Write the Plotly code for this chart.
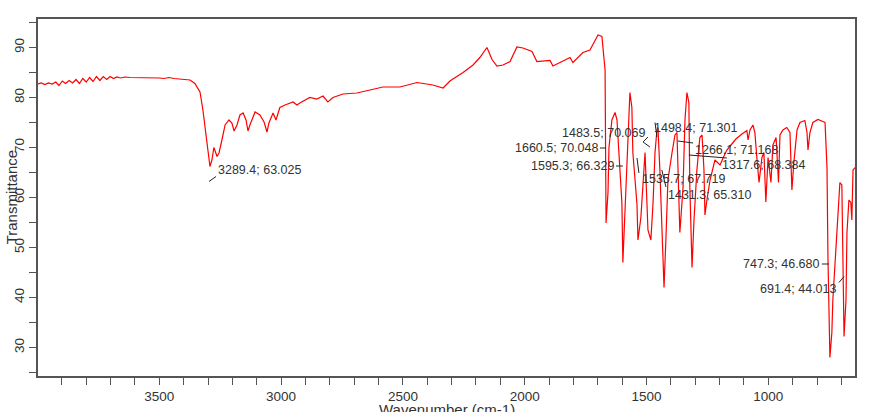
"""
plot.py
FT-IR transmittance spectrum with peak-pick labels, rebuilt in Plotly.
"""

import plotly.graph_objects as go

# ---------------------------------------------------------------------------
# Spectrum data
# ---------------------------------------------------------------------------
wavenumber = [
    3998, 3985, 3970, 3955, 3940, 3925, 3912, 3898, 3885, 3870, 3856, 3842,
    3828, 3814, 3800, 3786, 3772, 3758, 3744, 3730, 3716, 3702, 3688, 3674,
    3660, 3640, 3620, 3600, 3580, 3560, 3540, 3520, 3500, 3480, 3460, 3440,
    3420, 3400, 3374, 3354, 3333, 3321, 3304, 3292, 3284, 3276, 3263, 3255,
    3243, 3230, 3214, 3202, 3193, 3181, 3169, 3156, 3144, 3136, 3128, 3107,
    3087, 3070, 3058, 3050, 3033, 3021, 3005, 2984, 2951, 2935, 2923, 2882,
    2853, 2828, 2808, 2787, 2746, 2689, 2635, 2582, 2512, 2442, 2377, 2335,
    2307, 2253, 2212, 2184, 2155, 2134, 2114, 2089, 2060, 2032, 2007, 1970,
    1950, 1896, 1884, 1843, 1814, 1802, 1761, 1732, 1699, 1683, 1679, 1670,
    1666, 1658, 1654, 1642, 1629, 1621, 1617, 1601, 1597, 1580, 1568, 1560,
    1556, 1539, 1535, 1523, 1514, 1506, 1494, 1482, 1473, 1465, 1457, 1453,
    1445, 1437, 1428, 1420, 1412, 1395, 1383, 1375, 1371, 1363, 1350, 1342,
    1334, 1326, 1322, 1313, 1305, 1293, 1281, 1272, 1264, 1260, 1252, 1239,
    1219, 1198, 1180, 1170, 1153, 1133, 1108, 1088, 1083, 1075, 1063, 1055,
    1047, 1038, 1026, 1018, 1010, 1001, 989, 981, 968, 958, 952, 940,
    924, 911, 903, 895, 882, 870, 850, 841, 837, 829, 817, 796,
    776, 767, 759, 755, 747, 739, 735, 718, 706, 698, 693, 689,
    681, 677, 669, 661, 657, 652, 644,
]
transmittance = [
    82.7, 82.9, 82.6, 82.9, 82.7, 83.1, 82.4, 83.3, 82.8, 83.4, 82.9, 83.6,
    82.8, 83.8, 83.1, 84.0, 83.2, 84.2, 83.4, 84.2, 83.6, 84.2, 83.8, 84.1,
    83.9, 84.1, 84.0, 84.0, 83.9, 84.0, 83.9, 83.9, 83.9, 83.8, 84.0, 83.8,
    83.7, 83.6, 83.5, 82.8, 81.1, 77.5, 71.0, 66.2, 67.5, 70.0, 68.2, 68.9,
    71.5, 74.5, 75.5, 74.9, 73.3, 74.5, 76.5, 76.9, 75.5, 73.3, 74.5, 77.1,
    76.5, 75.1, 73.1, 74.9, 76.9, 75.5, 78.0, 78.5, 79.1, 78.5, 78.9, 80.0,
    79.7, 80.3, 79.1, 80.0, 80.7, 80.9, 81.5, 82.1, 82.1, 83.0, 82.5, 81.9,
    83.3, 85.0, 86.5, 88.0, 90.0, 87.6, 86.3, 86.5, 87.2, 90.1, 89.9, 89.2,
    87.2, 87.4, 86.3, 87.2, 88.0, 87.0, 89.0, 89.5, 92.5, 92.2, 90.1, 85.5,
    54.9, 61.0, 70.0, 75.5, 77.0, 75.5, 72.0, 59.0, 47.0, 69.0, 81.0, 78.0,
    69.0, 58.6, 51.5, 56.0, 63.5, 69.0, 53.5, 51.5, 59.0, 69.0, 73.5, 74.0,
    65.5, 55.5, 42.0, 52.0, 63.5, 69.0, 72.5, 73.0, 67.5, 53.0, 62.0, 75.5,
    81.0, 79.0, 62.0, 46.0, 55.5, 65.5, 72.0, 72.5, 65.5, 56.5, 59.5, 63.5,
    67.5, 66.5, 68.5, 69.5, 70.5, 71.7, 72.7, 73.4, 71.5, 73.5, 74.5, 73.0,
    68.0, 63.0, 68.0, 69.0, 59.1, 68.0, 63.0, 70.5, 72.0, 63.0, 72.5, 73.5,
    74.0, 73.0, 61.5, 67.0, 73.5, 75.0, 75.4, 73.0, 69.5, 73.0, 75.0, 75.6,
    75.2, 75.0, 66.0, 48.0, 28.0, 33.0, 39.5, 53.0, 63.0, 62.5, 46.0, 32.2,
    39.5, 53.0, 59.5, 59.0, 55.5, 65.5, 66.0,
]

# Peak-pick labels
peak_labels = [
    "3289.4; 63.025", "1483.5; 70.069", "1498.4; 71.301", "1660.5; 70.048",
    "1595.3; 66.329", "1266.1; 71.168", "1317.6; 68.384", "1535.7; 67.719",
    "1431.3; 65.310", "747.3; 46.680", "691.4; 44.013",
]

# ---------------------------------------------------------------------------
# Styling
# ---------------------------------------------------------------------------
COLOR_LINE = "#FF0000"
COLOR_AXIS = "#555555"
COLOR_TEXT = "#333333"
FONT = "Liberation Sans, Arial, sans-serif"

# label anchor (wavenumber, T, xanchor) in data units
label_pos = [
    (3267, 65.5, "left"), (1855, 73.0, "left"), (1478, 73.9, "left"),
    (1691, 69.9, "right"), (1625, 66.3, "right"), (1309, 69.5, "left"),
    (1198, 66.5, "left"), (1527, 63.7, "left"), (1420, 60.5, "left"),
    (780, 46.7, "right"), (710, 41.7, "right"),
]
# small leader ticks next to the labels
leaders = [
    ((3296, 63.2), (3267, 64.2)),
    ((1494, 72.1), (1514, 71.1)), ((1514, 71.1), (1486, 70.1)),
    ((1465, 75.0), (1457, 72.1)),
    ((1691, 69.9), (1666, 69.9)),
    ((1625, 66.3), (1597, 66.3)),
    ((1371, 71.3), (1309, 70.9)),
    ((1326, 68.5), (1170, 67.9)),
    ((1539, 67.9), (1531, 64.9)),
    ((1437, 65.5), (1420, 62.1)),
    ((780, 46.7), (751, 46.7)),
    ((710, 43.0), (689, 44.2)),
]

fig = go.Figure()

fig.add_trace(go.Scatter(
    x=wavenumber,
    y=transmittance,
    mode="lines",
    line=dict(color=COLOR_LINE, width=1.2),
    showlegend=False,
))

for txt, (lx, ly, anchor) in zip(peak_labels, label_pos):
    fig.add_annotation(
        x=lx, y=ly, text=txt, showarrow=False,
        xanchor=anchor, yanchor="middle",
        font=dict(family=FONT, size=12.5, color=COLOR_TEXT),
    )

for (x0, y0), (x1, y1) in leaders:
    fig.add_shape(
        type="line", x0=x0, y0=y0, x1=x1, y1=y1,
        line=dict(color="#222222", width=1),
    )

# axis titles as annotations so they sit exactly where the reference has them
fig.add_annotation(
    x=0.5, y=-0.095, xref="paper", yref="paper", text="Wavenumber (cm-1)",
    showarrow=False, yanchor="middle",
    font=dict(family=FONT, size=15, color=COLOR_TEXT),
)
fig.add_annotation(
    x=-0.032, y=0.5, xref="paper", yref="paper", text="Transmittance",
    showarrow=False, textangle=-90, xanchor="center",
    font=dict(family=FONT, size=15, color=COLOR_TEXT),
)

axis_common = dict(
    showline=True, mirror=True, linecolor=COLOR_AXIS, linewidth=1.5,
    showgrid=False, zeroline=False, ticks="outside", ticklen=7,
    tickcolor=COLOR_AXIS, tickwidth=1.2, automargin=False,
    tickfont=dict(family=FONT, size=13.5, color=COLOR_TEXT),
)

fig.update_layout(
    width=883, height=412,
    margin=dict(l=38, r=28, t=19, b=36),
    paper_bgcolor="white", plot_bgcolor="white",
    xaxis=dict(
        range=[3998, 644], dtick=500, tick0=0,
        minor=dict(dtick=100, ticks="outside", ticklen=7, tickcolor=COLOR_AXIS),
        **axis_common,
    ),
    yaxis=dict(
        range=[24.3, 95.7], dtick=10, tick0=0, tickangle=-90,
        minor=dict(dtick=5, ticks="outside", ticklen=7, tickcolor=COLOR_AXIS),
        **axis_common,
    ),
)

# drop the browser's default 8px body margin so the figure sits at (0, 0)
fig.write_html(
    "out.html",
    config={"displayModeBar": False},
    post_script="document.body.style.margin='0';document.body.style.overflow='hidden';",
)
